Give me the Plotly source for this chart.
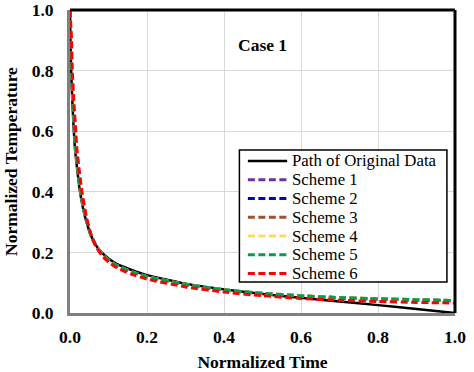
import plotly.graph_objects as go

# Normalized time samples
time_orig = [0, 0.001, 0.003, 0.006, 0.01, 0.013, 0.02, 0.026, 0.039, 0.052, 0.065, 0.082,
             0.1, 0.12, 0.16, 0.2, 0.3, 0.4, 0.5, 0.6, 0.7, 0.8, 0.9, 1.0]
temp_orig = [1.0, 0.9, 0.8, 0.7, 0.6, 0.54, 0.46, 0.40, 0.318, 0.264, 0.228, 0.2,
             0.18, 0.163, 0.142, 0.125, 0.097, 0.078, 0.063, 0.05, 0.038, 0.026, 0.013, 0.0]

time_s = [0, 0.002, 0.004, 0.008, 0.012, 0.015, 0.022, 0.028, 0.04, 0.053, 0.066, 0.082,
          0.1, 0.12, 0.16, 0.2, 0.3, 0.4, 0.5, 0.6, 0.7, 0.8, 0.9, 1.0]
temp_s1 = [1.0, 0.9, 0.8, 0.7, 0.6, 0.54, 0.46, 0.40, 0.318, 0.262, 0.225, 0.195,
           0.175, 0.157, 0.136, 0.12, 0.093, 0.076, 0.064, 0.056, 0.05, 0.046, 0.043, 0.04]
temp_s2 = [1.0, 0.9, 0.8, 0.7, 0.6, 0.54, 0.46, 0.40, 0.318, 0.262, 0.225, 0.195,
           0.175, 0.157, 0.136, 0.12, 0.093, 0.076, 0.064, 0.056, 0.05, 0.046, 0.043, 0.04]
temp_s3 = [1.0, 0.9, 0.8, 0.7, 0.6, 0.54, 0.46, 0.40, 0.318, 0.262, 0.225, 0.195,
           0.175, 0.157, 0.136, 0.12, 0.094, 0.077, 0.065, 0.057, 0.051, 0.047, 0.044, 0.041]
temp_s4 = [1.0, 0.9, 0.8, 0.7, 0.6, 0.54, 0.46, 0.40, 0.318, 0.262, 0.225, 0.195,
           0.175, 0.157, 0.136, 0.12, 0.094, 0.077, 0.065, 0.057, 0.051, 0.047, 0.044, 0.041]
temp_s5 = [1.0, 0.9, 0.8, 0.7, 0.6, 0.54, 0.46, 0.40, 0.318, 0.262, 0.225, 0.195,
           0.175, 0.157, 0.136, 0.12, 0.094, 0.077, 0.065, 0.057, 0.051, 0.047, 0.044, 0.041]
time_s6 = [0, 0.004, 0.006, 0.01, 0.015, 0.018, 0.025, 0.031, 0.043, 0.055, 0.068, 0.084,
           0.1, 0.12, 0.16, 0.2, 0.3, 0.4, 0.5, 0.6, 0.7, 0.8, 0.9, 1.0]
temp_s6 = [1.0, 0.9, 0.8, 0.7, 0.6, 0.54, 0.46, 0.40, 0.315, 0.257, 0.218, 0.188,
           0.168, 0.15, 0.128, 0.112, 0.086, 0.069, 0.057, 0.048, 0.042, 0.038, 0.035, 0.033]

names = ["Path of Original Data", "Scheme 1", "Scheme 2", "Scheme 3",
         "Scheme 4", "Scheme 5", "Scheme 6"]
colors = ["#000000", "#7030a0", "#0000cc", "#a0522d", "#ffd966", "#00a050", "#ff0000"]

series = [
    (time_orig, temp_orig),
    (time_s, temp_s1),
    (time_s, temp_s2),
    (time_s, temp_s3),
    (time_s, temp_s4),
    (time_s, temp_s5),
    (time_s6, temp_s6),
]

font_family = "Liberation Serif"
fsize = 17.5
leg_fsize = 16.8
dash_pat = "7px,3.5px"

fig = go.Figure()
for i, ((xs, ys), name, col) in enumerate(zip(series, names, colors)):
    fig.add_trace(go.Scatter(
        x=xs, y=ys, mode="lines", name=name, showlegend=False,
        line=dict(color=col, width=2.5 if i == 0 else 3,
                  dash="solid" if i == 0 else dash_pat, shape="spline", smoothing=0.4),
    ))

# Legend (boxed, compact spacing like the original)
leg_x0, leg_x1, leg_y0, leg_y1 = 0.44, 0.979, 0.102, 0.538
row_top, row_step = 0.502, 0.062
shapes = [
    dict(type="line", xref="paper", yref="paper", x0=0, x1=1, y0=1, y1=1,
         line=dict(color="black", width=3)),
    dict(type="line", xref="paper", yref="paper", x0=1, x1=1, y0=0, y1=1,
         line=dict(color="black", width=3)),
    dict(type="rect", xref="paper", yref="paper", x0=leg_x0, x1=leg_x1, y0=leg_y0, y1=leg_y1,
         line=dict(color="black", width=1.5), fillcolor="white", layer="above"),
]
annotations = [dict(
    x=0.5, y=0.925, xref="paper", yref="paper",
    text="<b>Case 1</b>", showarrow=False,
    font=dict(family=font_family, size=fsize, color="black"),
)]
for i, (name, col) in enumerate(zip(names, colors)):
    yy = row_top - i * row_step
    shapes.append(dict(type="line", xref="paper", yref="paper",
                       x0=0.462, x1=0.564, y0=yy, y1=yy,
                       line=dict(color=col, width=2.5 if i == 0 else 3,
                                 dash="solid" if i == 0 else dash_pat)))
    annotations.append(dict(x=0.574, y=yy, xref="paper", yref="paper",
                            xanchor="left", yanchor="middle", text=name, showarrow=False,
                            borderpad=0,
                            font=dict(family=font_family, size=leg_fsize, color="black")))

fig.update_layout(
    width=474, height=372,
    margin=dict(l=70, r=19, t=10, b=59, autoexpand=False),
    paper_bgcolor="white", plot_bgcolor="white",
    font=dict(family=font_family, color="black"),
    showlegend=False,
    xaxis=dict(
        range=[0, 1], dtick=0.2, tickformat=".1f", automargin=False,
        showgrid=True, gridcolor="#d9d9d9", gridwidth=1,
        showline=True, linecolor="#808080", linewidth=3,
        zeroline=False, ticks="", ticklabelstandoff=6,
        tickfont=dict(family=font_family, size=fsize, color="black", weight="bold"),
        title=dict(text="<b>Normalized Time</b>", standoff=10,
                   font=dict(family=font_family, size=fsize, color="black")),
    ),
    yaxis=dict(
        range=[0, 1], dtick=0.2, tickformat=".1f", automargin=False,
        showgrid=True, gridcolor="#d9d9d9", gridwidth=1,
        showline=True, linecolor="#808080", linewidth=3,
        zeroline=False, ticks="", ticklabelstandoff=10,
        tickfont=dict(family=font_family, size=fsize, color="black", weight="bold"),
        title=dict(text="<b>Normalized Temperature</b>", standoff=10,
                   font=dict(family=font_family, size=fsize, color="black")),
    ),
    annotations=annotations,
    shapes=shapes,
)

fig.write_html("out.html", config={"displayModeBar": False},
               post_script="document.body.style.margin='0';document.body.style.overflow='hidden';")
